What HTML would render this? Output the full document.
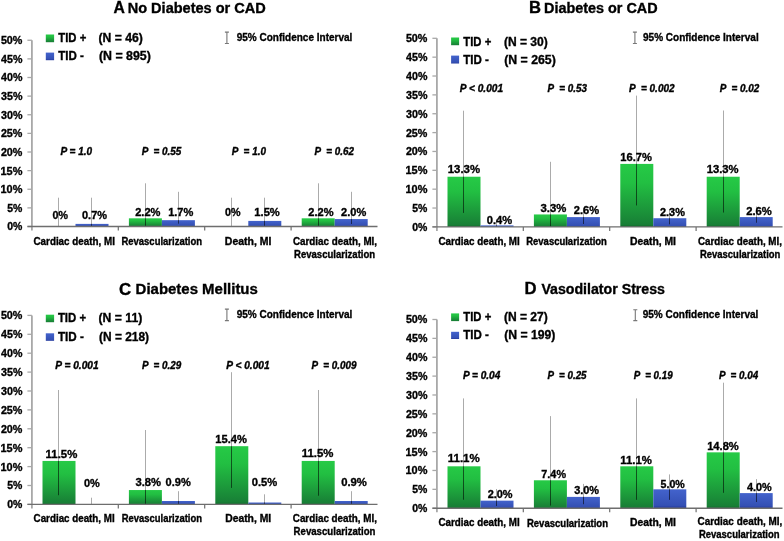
<!DOCTYPE html>
<html><head><meta charset="utf-8"><style>
html,body{margin:0;padding:0;background:#fff;}
svg{display:block;will-change:transform;}
text{font-family:"Liberation Sans",sans-serif;font-weight:bold;fill:#000;white-space:pre;stroke:#000;stroke-width:0.35px;}
</style></head><body>
<svg width="784" height="541" viewBox="0 0 784 541">
<defs>
<linearGradient id="gG" x1="0" y1="0" x2="0" y2="1"><stop offset="0" stop-color="#26ca46"/><stop offset="0.3" stop-color="#22bf42"/><stop offset="0.96" stop-color="#187f36"/><stop offset="1" stop-color="#11682b"/></linearGradient>
<linearGradient id="gB" x1="0" y1="0" x2="0" y2="1"><stop offset="0" stop-color="#4363cc"/><stop offset="0.85" stop-color="#3450b4"/><stop offset="1" stop-color="#22379a"/></linearGradient>
</defs>
<rect width="784" height="541" fill="#fff"/>
<line x1="27.40" y1="226.50" x2="31.90" y2="226.50" stroke="#a8a8a8" stroke-width="1.3"/>
<line x1="27.40" y1="207.88" x2="31.90" y2="207.88" stroke="#a8a8a8" stroke-width="1.3"/>
<line x1="27.40" y1="189.25" x2="31.90" y2="189.25" stroke="#a8a8a8" stroke-width="1.3"/>
<line x1="27.40" y1="170.62" x2="31.90" y2="170.62" stroke="#a8a8a8" stroke-width="1.3"/>
<line x1="27.40" y1="152.00" x2="31.90" y2="152.00" stroke="#a8a8a8" stroke-width="1.3"/>
<line x1="27.40" y1="133.38" x2="31.90" y2="133.38" stroke="#a8a8a8" stroke-width="1.3"/>
<line x1="27.40" y1="114.75" x2="31.90" y2="114.75" stroke="#a8a8a8" stroke-width="1.3"/>
<line x1="27.40" y1="96.12" x2="31.90" y2="96.12" stroke="#a8a8a8" stroke-width="1.3"/>
<line x1="27.40" y1="77.50" x2="31.90" y2="77.50" stroke="#a8a8a8" stroke-width="1.3"/>
<line x1="27.40" y1="58.88" x2="31.90" y2="58.88" stroke="#a8a8a8" stroke-width="1.3"/>
<line x1="27.40" y1="40.25" x2="31.90" y2="40.25" stroke="#a8a8a8" stroke-width="1.3"/>
<rect x="45.80" y="34.50" width="8.30" height="7.70" fill="url(#gG)"/>
<rect x="45.80" y="52.60" width="8.30" height="7.60" fill="url(#gB)"/>
<path d="M226.90 32.10V43.50M224.90 32.10H228.90M224.90 43.50H228.90" stroke="#777" stroke-width="1.1" fill="none"/>
<rect x="75.50" y="223.89" width="33" height="2.61" fill="url(#gB)"/>
<rect x="128.90" y="218.31" width="33" height="8.20" fill="url(#gG)"/>
<rect x="161.90" y="220.17" width="33" height="6.33" fill="url(#gB)"/>
<rect x="248.30" y="220.91" width="33" height="5.59" fill="url(#gB)"/>
<rect x="301.70" y="218.31" width="33" height="8.20" fill="url(#gG)"/>
<rect x="334.70" y="219.05" width="33" height="7.45" fill="url(#gB)"/>
<line x1="58.50" y1="197.70" x2="58.50" y2="226.50" stroke="#000" stroke-opacity="0.33" stroke-width="1"/>
<line x1="91.50" y1="197.70" x2="91.50" y2="226.50" stroke="#000" stroke-opacity="0.33" stroke-width="1"/>
<line x1="91.50" y1="223.89" x2="91.50" y2="226.50" stroke="#000" stroke-opacity="0.35" stroke-width="1"/>
<line x1="145.50" y1="183.30" x2="145.50" y2="226.50" stroke="#000" stroke-opacity="0.33" stroke-width="1"/>
<line x1="145.50" y1="218.31" x2="145.50" y2="226.50" stroke="#000" stroke-opacity="0.35" stroke-width="1"/>
<line x1="178.50" y1="191.80" x2="178.50" y2="223.60" stroke="#000" stroke-opacity="0.33" stroke-width="1"/>
<line x1="178.50" y1="220.17" x2="178.50" y2="223.60" stroke="#000" stroke-opacity="0.35" stroke-width="1"/>
<line x1="231.50" y1="197.70" x2="231.50" y2="226.50" stroke="#000" stroke-opacity="0.33" stroke-width="1"/>
<line x1="264.50" y1="197.70" x2="264.50" y2="226.50" stroke="#000" stroke-opacity="0.33" stroke-width="1"/>
<line x1="264.50" y1="220.91" x2="264.50" y2="226.50" stroke="#000" stroke-opacity="0.35" stroke-width="1"/>
<line x1="318.50" y1="183.30" x2="318.50" y2="226.50" stroke="#000" stroke-opacity="0.33" stroke-width="1"/>
<line x1="318.50" y1="218.31" x2="318.50" y2="226.50" stroke="#000" stroke-opacity="0.35" stroke-width="1"/>
<line x1="351.50" y1="191.80" x2="351.50" y2="224.00" stroke="#000" stroke-opacity="0.33" stroke-width="1"/>
<line x1="351.50" y1="219.05" x2="351.50" y2="224.00" stroke="#000" stroke-opacity="0.35" stroke-width="1"/>
<line x1="31.90" y1="40.25" x2="31.90" y2="230.50" stroke="#a8a8a8" stroke-width="1.8"/>
<line x1="27.40" y1="226.50" x2="377.50" y2="226.50" stroke="#6e6e6e" stroke-width="1.4"/>
<line x1="118.30" y1="226.50" x2="118.30" y2="230.50" stroke="#6e6e6e" stroke-width="1.2"/>
<line x1="204.70" y1="226.50" x2="204.70" y2="230.50" stroke="#6e6e6e" stroke-width="1.2"/>
<line x1="291.10" y1="226.50" x2="291.10" y2="230.50" stroke="#6e6e6e" stroke-width="1.2"/>
<line x1="432.40" y1="226.90" x2="436.90" y2="226.90" stroke="#a8a8a8" stroke-width="1.3"/>
<line x1="432.40" y1="208.04" x2="436.90" y2="208.04" stroke="#a8a8a8" stroke-width="1.3"/>
<line x1="432.40" y1="189.18" x2="436.90" y2="189.18" stroke="#a8a8a8" stroke-width="1.3"/>
<line x1="432.40" y1="170.32" x2="436.90" y2="170.32" stroke="#a8a8a8" stroke-width="1.3"/>
<line x1="432.40" y1="151.46" x2="436.90" y2="151.46" stroke="#a8a8a8" stroke-width="1.3"/>
<line x1="432.40" y1="132.60" x2="436.90" y2="132.60" stroke="#a8a8a8" stroke-width="1.3"/>
<line x1="432.40" y1="113.74" x2="436.90" y2="113.74" stroke="#a8a8a8" stroke-width="1.3"/>
<line x1="432.40" y1="94.88" x2="436.90" y2="94.88" stroke="#a8a8a8" stroke-width="1.3"/>
<line x1="432.40" y1="76.02" x2="436.90" y2="76.02" stroke="#a8a8a8" stroke-width="1.3"/>
<line x1="432.40" y1="57.16" x2="436.90" y2="57.16" stroke="#a8a8a8" stroke-width="1.3"/>
<line x1="432.40" y1="38.30" x2="436.90" y2="38.30" stroke="#a8a8a8" stroke-width="1.3"/>
<rect x="451.10" y="37.50" width="8.00" height="7.70" fill="url(#gG)"/>
<rect x="451.10" y="55.60" width="8.00" height="7.90" fill="url(#gB)"/>
<path d="M634.90 32.10V43.50M632.90 32.10H636.90M632.90 43.50H636.90" stroke="#777" stroke-width="1.1" fill="none"/>
<rect x="447.50" y="176.73" width="33" height="50.17" fill="url(#gG)"/>
<rect x="480.50" y="225.39" width="33" height="1.51" fill="url(#gB)"/>
<rect x="533.90" y="214.45" width="33" height="12.45" fill="url(#gG)"/>
<rect x="566.90" y="217.09" width="33" height="9.81" fill="url(#gB)"/>
<rect x="620.30" y="163.91" width="33" height="62.99" fill="url(#gG)"/>
<rect x="653.30" y="218.22" width="33" height="8.68" fill="url(#gB)"/>
<rect x="706.70" y="176.73" width="33" height="50.17" fill="url(#gG)"/>
<rect x="739.70" y="217.09" width="33" height="9.81" fill="url(#gB)"/>
<line x1="463.50" y1="110.70" x2="463.50" y2="212.90" stroke="#000" stroke-opacity="0.33" stroke-width="1"/>
<line x1="463.50" y1="176.73" x2="463.50" y2="212.90" stroke="#000" stroke-opacity="0.35" stroke-width="1"/>
<line x1="496.50" y1="219.00" x2="496.50" y2="226.90" stroke="#000" stroke-opacity="0.33" stroke-width="1"/>
<line x1="496.50" y1="225.39" x2="496.50" y2="226.90" stroke="#000" stroke-opacity="0.35" stroke-width="1"/>
<line x1="550.50" y1="161.80" x2="550.50" y2="226.50" stroke="#000" stroke-opacity="0.33" stroke-width="1"/>
<line x1="550.50" y1="214.45" x2="550.50" y2="226.50" stroke="#000" stroke-opacity="0.35" stroke-width="1"/>
<line x1="583.50" y1="208.40" x2="583.50" y2="224.00" stroke="#000" stroke-opacity="0.33" stroke-width="1"/>
<line x1="583.50" y1="217.09" x2="583.50" y2="224.00" stroke="#000" stroke-opacity="0.35" stroke-width="1"/>
<line x1="636.50" y1="95.60" x2="636.50" y2="205.40" stroke="#000" stroke-opacity="0.33" stroke-width="1"/>
<line x1="636.50" y1="163.91" x2="636.50" y2="205.40" stroke="#000" stroke-opacity="0.35" stroke-width="1"/>
<line x1="669.50" y1="209.90" x2="669.50" y2="224.30" stroke="#000" stroke-opacity="0.33" stroke-width="1"/>
<line x1="669.50" y1="218.22" x2="669.50" y2="224.30" stroke="#000" stroke-opacity="0.35" stroke-width="1"/>
<line x1="723.50" y1="110.50" x2="723.50" y2="212.50" stroke="#000" stroke-opacity="0.33" stroke-width="1"/>
<line x1="723.50" y1="176.73" x2="723.50" y2="212.50" stroke="#000" stroke-opacity="0.35" stroke-width="1"/>
<line x1="756.50" y1="206.50" x2="756.50" y2="222.70" stroke="#000" stroke-opacity="0.33" stroke-width="1"/>
<line x1="756.50" y1="217.09" x2="756.50" y2="222.70" stroke="#000" stroke-opacity="0.35" stroke-width="1"/>
<line x1="436.90" y1="38.30" x2="436.90" y2="230.90" stroke="#a8a8a8" stroke-width="1.8"/>
<line x1="432.40" y1="226.90" x2="782.50" y2="226.90" stroke="#6e6e6e" stroke-width="1.4"/>
<line x1="523.30" y1="226.90" x2="523.30" y2="230.90" stroke="#6e6e6e" stroke-width="1.2"/>
<line x1="609.70" y1="226.90" x2="609.70" y2="230.90" stroke="#6e6e6e" stroke-width="1.2"/>
<line x1="696.10" y1="226.90" x2="696.10" y2="230.90" stroke="#6e6e6e" stroke-width="1.2"/>
<line x1="27.40" y1="504.40" x2="31.90" y2="504.40" stroke="#a8a8a8" stroke-width="1.3"/>
<line x1="27.40" y1="485.50" x2="31.90" y2="485.50" stroke="#a8a8a8" stroke-width="1.3"/>
<line x1="27.40" y1="466.60" x2="31.90" y2="466.60" stroke="#a8a8a8" stroke-width="1.3"/>
<line x1="27.40" y1="447.70" x2="31.90" y2="447.70" stroke="#a8a8a8" stroke-width="1.3"/>
<line x1="27.40" y1="428.80" x2="31.90" y2="428.80" stroke="#a8a8a8" stroke-width="1.3"/>
<line x1="27.40" y1="409.90" x2="31.90" y2="409.90" stroke="#a8a8a8" stroke-width="1.3"/>
<line x1="27.40" y1="391.00" x2="31.90" y2="391.00" stroke="#a8a8a8" stroke-width="1.3"/>
<line x1="27.40" y1="372.10" x2="31.90" y2="372.10" stroke="#a8a8a8" stroke-width="1.3"/>
<line x1="27.40" y1="353.20" x2="31.90" y2="353.20" stroke="#a8a8a8" stroke-width="1.3"/>
<line x1="27.40" y1="334.30" x2="31.90" y2="334.30" stroke="#a8a8a8" stroke-width="1.3"/>
<line x1="27.40" y1="315.40" x2="31.90" y2="315.40" stroke="#a8a8a8" stroke-width="1.3"/>
<rect x="45.80" y="314.70" width="8.30" height="7.50" fill="url(#gG)"/>
<rect x="45.80" y="333.30" width="8.30" height="7.50" fill="url(#gB)"/>
<path d="M226.90 309.10V320.60M224.90 309.10H228.90M224.90 320.60H228.90" stroke="#777" stroke-width="1.1" fill="none"/>
<rect x="42.50" y="460.93" width="33" height="43.47" fill="url(#gG)"/>
<rect x="128.90" y="490.04" width="33" height="14.36" fill="url(#gG)"/>
<rect x="161.90" y="501.00" width="33" height="3.40" fill="url(#gB)"/>
<rect x="215.30" y="446.19" width="33" height="58.21" fill="url(#gG)"/>
<rect x="248.30" y="502.51" width="33" height="1.89" fill="url(#gB)"/>
<rect x="301.70" y="460.93" width="33" height="43.47" fill="url(#gG)"/>
<rect x="334.70" y="501.00" width="33" height="3.40" fill="url(#gB)"/>
<line x1="58.50" y1="390.00" x2="58.50" y2="495.20" stroke="#000" stroke-opacity="0.33" stroke-width="1"/>
<line x1="58.50" y1="460.93" x2="58.50" y2="495.20" stroke="#000" stroke-opacity="0.35" stroke-width="1"/>
<line x1="91.50" y1="497.70" x2="91.50" y2="504.40" stroke="#000" stroke-opacity="0.33" stroke-width="1"/>
<line x1="145.50" y1="430.00" x2="145.50" y2="504.00" stroke="#000" stroke-opacity="0.33" stroke-width="1"/>
<line x1="145.50" y1="490.04" x2="145.50" y2="504.00" stroke="#000" stroke-opacity="0.35" stroke-width="1"/>
<line x1="178.50" y1="491.20" x2="178.50" y2="504.00" stroke="#000" stroke-opacity="0.33" stroke-width="1"/>
<line x1="178.50" y1="501.00" x2="178.50" y2="504.00" stroke="#000" stroke-opacity="0.35" stroke-width="1"/>
<line x1="231.50" y1="372.20" x2="231.50" y2="487.90" stroke="#000" stroke-opacity="0.33" stroke-width="1"/>
<line x1="231.50" y1="446.19" x2="231.50" y2="487.90" stroke="#000" stroke-opacity="0.35" stroke-width="1"/>
<line x1="264.50" y1="494.30" x2="264.50" y2="504.00" stroke="#000" stroke-opacity="0.33" stroke-width="1"/>
<line x1="264.50" y1="502.51" x2="264.50" y2="504.00" stroke="#000" stroke-opacity="0.35" stroke-width="1"/>
<line x1="318.50" y1="390.00" x2="318.50" y2="495.70" stroke="#000" stroke-opacity="0.33" stroke-width="1"/>
<line x1="318.50" y1="460.93" x2="318.50" y2="495.70" stroke="#000" stroke-opacity="0.35" stroke-width="1"/>
<line x1="351.50" y1="491.20" x2="351.50" y2="504.00" stroke="#000" stroke-opacity="0.33" stroke-width="1"/>
<line x1="351.50" y1="501.00" x2="351.50" y2="504.00" stroke="#000" stroke-opacity="0.35" stroke-width="1"/>
<line x1="31.90" y1="315.40" x2="31.90" y2="508.40" stroke="#a8a8a8" stroke-width="1.8"/>
<line x1="27.40" y1="504.40" x2="377.50" y2="504.40" stroke="#6e6e6e" stroke-width="1.4"/>
<line x1="118.30" y1="504.40" x2="118.30" y2="508.40" stroke="#6e6e6e" stroke-width="1.2"/>
<line x1="204.70" y1="504.40" x2="204.70" y2="508.40" stroke="#6e6e6e" stroke-width="1.2"/>
<line x1="291.10" y1="504.40" x2="291.10" y2="508.40" stroke="#6e6e6e" stroke-width="1.2"/>
<line x1="432.40" y1="508.20" x2="436.90" y2="508.20" stroke="#a8a8a8" stroke-width="1.3"/>
<line x1="432.40" y1="489.33" x2="436.90" y2="489.33" stroke="#a8a8a8" stroke-width="1.3"/>
<line x1="432.40" y1="470.46" x2="436.90" y2="470.46" stroke="#a8a8a8" stroke-width="1.3"/>
<line x1="432.40" y1="451.59" x2="436.90" y2="451.59" stroke="#a8a8a8" stroke-width="1.3"/>
<line x1="432.40" y1="432.72" x2="436.90" y2="432.72" stroke="#a8a8a8" stroke-width="1.3"/>
<line x1="432.40" y1="413.85" x2="436.90" y2="413.85" stroke="#a8a8a8" stroke-width="1.3"/>
<line x1="432.40" y1="394.98" x2="436.90" y2="394.98" stroke="#a8a8a8" stroke-width="1.3"/>
<line x1="432.40" y1="376.11" x2="436.90" y2="376.11" stroke="#a8a8a8" stroke-width="1.3"/>
<line x1="432.40" y1="357.24" x2="436.90" y2="357.24" stroke="#a8a8a8" stroke-width="1.3"/>
<line x1="432.40" y1="338.37" x2="436.90" y2="338.37" stroke="#a8a8a8" stroke-width="1.3"/>
<line x1="432.40" y1="319.50" x2="436.90" y2="319.50" stroke="#a8a8a8" stroke-width="1.3"/>
<rect x="451.10" y="313.40" width="8.00" height="7.70" fill="url(#gG)"/>
<rect x="451.10" y="331.80" width="8.00" height="7.20" fill="url(#gB)"/>
<path d="M635.30 309.70V320.60M633.30 309.70H637.30M633.30 320.60H637.30" stroke="#777" stroke-width="1.1" fill="none"/>
<rect x="447.50" y="466.31" width="33" height="41.89" fill="url(#gG)"/>
<rect x="480.50" y="500.65" width="33" height="7.55" fill="url(#gB)"/>
<rect x="533.90" y="480.27" width="33" height="27.93" fill="url(#gG)"/>
<rect x="566.90" y="496.88" width="33" height="11.32" fill="url(#gB)"/>
<rect x="620.30" y="466.31" width="33" height="41.89" fill="url(#gG)"/>
<rect x="653.30" y="489.33" width="33" height="18.87" fill="url(#gB)"/>
<rect x="706.70" y="452.34" width="33" height="55.86" fill="url(#gG)"/>
<rect x="739.70" y="493.10" width="33" height="15.10" fill="url(#gB)"/>
<line x1="463.50" y1="398.40" x2="463.50" y2="499.70" stroke="#000" stroke-opacity="0.33" stroke-width="1"/>
<line x1="463.50" y1="466.31" x2="463.50" y2="499.70" stroke="#000" stroke-opacity="0.35" stroke-width="1"/>
<line x1="496.50" y1="489.00" x2="496.50" y2="506.00" stroke="#000" stroke-opacity="0.33" stroke-width="1"/>
<line x1="496.50" y1="500.65" x2="496.50" y2="506.00" stroke="#000" stroke-opacity="0.35" stroke-width="1"/>
<line x1="550.50" y1="416.10" x2="550.50" y2="505.50" stroke="#000" stroke-opacity="0.33" stroke-width="1"/>
<line x1="550.50" y1="480.27" x2="550.50" y2="505.50" stroke="#000" stroke-opacity="0.35" stroke-width="1"/>
<line x1="583.50" y1="483.90" x2="583.50" y2="504.20" stroke="#000" stroke-opacity="0.33" stroke-width="1"/>
<line x1="583.50" y1="496.88" x2="583.50" y2="504.20" stroke="#000" stroke-opacity="0.35" stroke-width="1"/>
<line x1="636.50" y1="398.40" x2="636.50" y2="499.80" stroke="#000" stroke-opacity="0.33" stroke-width="1"/>
<line x1="636.50" y1="466.31" x2="636.50" y2="499.80" stroke="#000" stroke-opacity="0.35" stroke-width="1"/>
<line x1="669.50" y1="474.40" x2="669.50" y2="499.80" stroke="#000" stroke-opacity="0.33" stroke-width="1"/>
<line x1="669.50" y1="489.33" x2="669.50" y2="499.80" stroke="#000" stroke-opacity="0.35" stroke-width="1"/>
<line x1="723.50" y1="382.70" x2="723.50" y2="492.80" stroke="#000" stroke-opacity="0.33" stroke-width="1"/>
<line x1="723.50" y1="452.34" x2="723.50" y2="492.80" stroke="#000" stroke-opacity="0.35" stroke-width="1"/>
<line x1="756.50" y1="479.10" x2="756.50" y2="502.00" stroke="#000" stroke-opacity="0.33" stroke-width="1"/>
<line x1="756.50" y1="493.10" x2="756.50" y2="502.00" stroke="#000" stroke-opacity="0.35" stroke-width="1"/>
<line x1="436.90" y1="319.50" x2="436.90" y2="512.20" stroke="#a8a8a8" stroke-width="1.8"/>
<line x1="432.40" y1="508.20" x2="782.50" y2="508.20" stroke="#6e6e6e" stroke-width="1.4"/>
<line x1="523.30" y1="508.20" x2="523.30" y2="512.20" stroke="#6e6e6e" stroke-width="1.2"/>
<line x1="609.70" y1="508.20" x2="609.70" y2="512.20" stroke="#6e6e6e" stroke-width="1.2"/>
<line x1="696.10" y1="508.20" x2="696.10" y2="512.20" stroke="#6e6e6e" stroke-width="1.2"/>
<text x="113.39" y="12.80" font-size="16.72" textLength="11.36" lengthAdjust="spacingAndGlyphs">A</text>
<text x="127.73" y="12.80" font-size="14.54" textLength="138.04" lengthAdjust="spacingAndGlyphs">No Diabetes or CAD</text>
<text x="7.29" y="230.45" font-size="11.34" textLength="15.11" lengthAdjust="spacingAndGlyphs">0%</text>
<text x="7.29" y="211.82" font-size="11.34" textLength="15.11" lengthAdjust="spacingAndGlyphs">5%</text>
<text x="0.54" y="193.20" font-size="11.34" textLength="21.86" lengthAdjust="spacingAndGlyphs">10%</text>
<text x="0.54" y="174.57" font-size="11.34" textLength="21.86" lengthAdjust="spacingAndGlyphs">15%</text>
<text x="0.88" y="155.95" font-size="11.34" textLength="21.53" lengthAdjust="spacingAndGlyphs">20%</text>
<text x="0.88" y="137.32" font-size="11.34" textLength="21.53" lengthAdjust="spacingAndGlyphs">25%</text>
<text x="0.99" y="118.70" font-size="11.34" textLength="21.42" lengthAdjust="spacingAndGlyphs">30%</text>
<text x="0.99" y="100.08" font-size="11.34" textLength="21.42" lengthAdjust="spacingAndGlyphs">35%</text>
<text x="1.09" y="81.45" font-size="11.34" textLength="21.31" lengthAdjust="spacingAndGlyphs">40%</text>
<text x="1.09" y="62.83" font-size="11.34" textLength="21.31" lengthAdjust="spacingAndGlyphs">45%</text>
<text x="0.88" y="44.20" font-size="11.34" textLength="21.53" lengthAdjust="spacingAndGlyphs">50%</text>
<text x="58.29" y="42.10" font-size="12.35" textLength="28.00" lengthAdjust="spacingAndGlyphs">TID +</text>
<text x="98.51" y="42.10" font-size="12.35" textLength="44.31" lengthAdjust="spacingAndGlyphs">(N = 46)</text>
<text x="58.28" y="60.20" font-size="12.35" textLength="25.70" lengthAdjust="spacingAndGlyphs">TID -</text>
<text x="98.91" y="60.20" font-size="12.35" textLength="51.93" lengthAdjust="spacingAndGlyphs">(N = 895)</text>
<text x="236.70" y="41.30" font-size="11.05" textLength="115.68" lengthAdjust="spacingAndGlyphs">95% Confidence Interval</text>
<text x="60.40" y="154.90" font-size="10.03" font-style="italic" textLength="31.76" lengthAdjust="spacingAndGlyphs">P = 1.0</text>
<text x="141.70" y="154.90" font-size="10.03" font-style="italic" textLength="39.66" lengthAdjust="spacingAndGlyphs" xml:space="preserve">P  = 0.55</text>
<text x="231.80" y="154.90" font-size="10.03" font-style="italic" textLength="34.16" lengthAdjust="spacingAndGlyphs" xml:space="preserve">P  = 1.0</text>
<text x="314.60" y="154.90" font-size="10.03" font-style="italic" textLength="39.36" lengthAdjust="spacingAndGlyphs" xml:space="preserve">P  = 0.62</text>
<text x="52.58" y="219.10" font-size="11.48" textLength="15.42" lengthAdjust="spacingAndGlyphs">0%</text>
<text x="81.97" y="219.10" font-size="11.48" textLength="25.04" lengthAdjust="spacingAndGlyphs">0.7%</text>
<text x="135.17" y="215.80" font-size="11.48" textLength="25.35" lengthAdjust="spacingAndGlyphs">2.2%</text>
<text x="168.13" y="215.80" font-size="11.48" textLength="25.28" lengthAdjust="spacingAndGlyphs">1.7%</text>
<text x="224.98" y="216.00" font-size="11.48" textLength="15.53" lengthAdjust="spacingAndGlyphs">0%</text>
<text x="254.33" y="216.00" font-size="11.48" textLength="25.49" lengthAdjust="spacingAndGlyphs">1.5%</text>
<text x="308.37" y="215.80" font-size="11.48" textLength="25.24" lengthAdjust="spacingAndGlyphs">2.2%</text>
<text x="341.07" y="215.80" font-size="11.48" textLength="25.14" lengthAdjust="spacingAndGlyphs">2.0%</text>
<text x="33.51" y="245.00" font-size="10.17" textLength="81.36" lengthAdjust="spacingAndGlyphs">Cardiac death, MI</text>
<text x="121.43" y="245.20" font-size="10.17" textLength="80.65" lengthAdjust="spacingAndGlyphs">Revascularization</text>
<text x="224.87" y="244.60" font-size="10.17" textLength="46.53" lengthAdjust="spacingAndGlyphs">Death, MI</text>
<text x="292.91" y="245.20" font-size="10.17" textLength="84.16" lengthAdjust="spacingAndGlyphs">Cardiac death, MI,</text>
<text x="294.03" y="257.50" font-size="10.17" textLength="81.15" lengthAdjust="spacingAndGlyphs">Revascularization</text>
<text x="529.00" y="13.10" font-size="16.72" textLength="12.00" lengthAdjust="spacingAndGlyphs">B</text>
<text x="544.04" y="12.80" font-size="14.54" textLength="113.53" lengthAdjust="spacingAndGlyphs">Diabetes or CAD</text>
<text x="412.29" y="230.85" font-size="11.34" textLength="15.11" lengthAdjust="spacingAndGlyphs">0%</text>
<text x="412.29" y="211.99" font-size="11.34" textLength="15.11" lengthAdjust="spacingAndGlyphs">5%</text>
<text x="405.54" y="193.13" font-size="11.34" textLength="21.86" lengthAdjust="spacingAndGlyphs">10%</text>
<text x="405.54" y="174.27" font-size="11.34" textLength="21.86" lengthAdjust="spacingAndGlyphs">15%</text>
<text x="405.88" y="155.41" font-size="11.34" textLength="21.53" lengthAdjust="spacingAndGlyphs">20%</text>
<text x="405.88" y="136.55" font-size="11.34" textLength="21.53" lengthAdjust="spacingAndGlyphs">25%</text>
<text x="405.99" y="117.69" font-size="11.34" textLength="21.42" lengthAdjust="spacingAndGlyphs">30%</text>
<text x="405.99" y="98.83" font-size="11.34" textLength="21.42" lengthAdjust="spacingAndGlyphs">35%</text>
<text x="406.09" y="79.97" font-size="11.34" textLength="21.31" lengthAdjust="spacingAndGlyphs">40%</text>
<text x="406.09" y="61.11" font-size="11.34" textLength="21.31" lengthAdjust="spacingAndGlyphs">45%</text>
<text x="405.88" y="42.25" font-size="11.34" textLength="21.53" lengthAdjust="spacingAndGlyphs">50%</text>
<text x="463.29" y="45.50" font-size="12.35" textLength="28.00" lengthAdjust="spacingAndGlyphs">TID +</text>
<text x="503.92" y="45.50" font-size="12.35" textLength="43.90" lengthAdjust="spacingAndGlyphs">(N = 30)</text>
<text x="463.28" y="63.50" font-size="12.35" textLength="25.70" lengthAdjust="spacingAndGlyphs">TID -</text>
<text x="504.21" y="63.50" font-size="12.35" textLength="51.62" lengthAdjust="spacingAndGlyphs">(N = 265)</text>
<text x="643.00" y="41.30" font-size="11.05" textLength="115.68" lengthAdjust="spacingAndGlyphs">95% Confidence Interval</text>
<text x="459.80" y="91.80" font-size="10.03" font-style="italic" textLength="43.26" lengthAdjust="spacingAndGlyphs">P &lt; 0.001</text>
<text x="547.50" y="91.80" font-size="10.03" font-style="italic" textLength="39.36" lengthAdjust="spacingAndGlyphs" xml:space="preserve">P  = 0.53</text>
<text x="629.10" y="91.80" font-size="10.03" font-style="italic" textLength="45.46" lengthAdjust="spacingAndGlyphs" xml:space="preserve">P  = 0.002</text>
<text x="719.80" y="91.80" font-size="10.03" font-style="italic" textLength="39.56" lengthAdjust="spacingAndGlyphs" xml:space="preserve">P  = 0.02</text>
<text x="447.72" y="173.20" font-size="11.48" textLength="32.30" lengthAdjust="spacingAndGlyphs">13.3%</text>
<text x="486.77" y="223.70" font-size="11.48" textLength="25.45" lengthAdjust="spacingAndGlyphs">0.4%</text>
<text x="540.57" y="211.60" font-size="11.48" textLength="25.84" lengthAdjust="spacingAndGlyphs">3.3%</text>
<text x="573.77" y="214.40" font-size="11.48" textLength="25.35" lengthAdjust="spacingAndGlyphs">2.6%</text>
<text x="620.33" y="160.90" font-size="11.48" textLength="31.68" lengthAdjust="spacingAndGlyphs">16.7%</text>
<text x="659.97" y="215.90" font-size="11.48" textLength="24.94" lengthAdjust="spacingAndGlyphs">2.3%</text>
<text x="706.63" y="173.30" font-size="11.48" textLength="31.89" lengthAdjust="spacingAndGlyphs">13.3%</text>
<text x="746.16" y="215.40" font-size="11.48" textLength="25.65" lengthAdjust="spacingAndGlyphs">2.6%</text>
<text x="438.41" y="245.20" font-size="10.17" textLength="81.36" lengthAdjust="spacingAndGlyphs">Cardiac death, MI</text>
<text x="526.23" y="245.20" font-size="10.17" textLength="80.65" lengthAdjust="spacingAndGlyphs">Revascularization</text>
<text x="629.98" y="244.50" font-size="10.17" textLength="46.02" lengthAdjust="spacingAndGlyphs">Death, MI</text>
<text x="698.01" y="245.20" font-size="10.17" textLength="83.96" lengthAdjust="spacingAndGlyphs">Cardiac death, MI,</text>
<text x="700.03" y="257.80" font-size="10.17" textLength="80.34" lengthAdjust="spacingAndGlyphs">Revascularization</text>
<text x="119.13" y="294.90" font-size="16.72" textLength="12.15" lengthAdjust="spacingAndGlyphs">C</text>
<text x="135.60" y="294.30" font-size="14.54" textLength="122.24" lengthAdjust="spacingAndGlyphs">Diabetes Mellitus</text>
<text x="7.29" y="508.35" font-size="11.34" textLength="15.11" lengthAdjust="spacingAndGlyphs">0%</text>
<text x="7.29" y="489.45" font-size="11.34" textLength="15.11" lengthAdjust="spacingAndGlyphs">5%</text>
<text x="0.54" y="470.55" font-size="11.34" textLength="21.86" lengthAdjust="spacingAndGlyphs">10%</text>
<text x="0.54" y="451.65" font-size="11.34" textLength="21.86" lengthAdjust="spacingAndGlyphs">15%</text>
<text x="0.88" y="432.75" font-size="11.34" textLength="21.53" lengthAdjust="spacingAndGlyphs">20%</text>
<text x="0.88" y="413.85" font-size="11.34" textLength="21.53" lengthAdjust="spacingAndGlyphs">25%</text>
<text x="0.99" y="394.95" font-size="11.34" textLength="21.42" lengthAdjust="spacingAndGlyphs">30%</text>
<text x="0.99" y="376.05" font-size="11.34" textLength="21.42" lengthAdjust="spacingAndGlyphs">35%</text>
<text x="1.09" y="357.15" font-size="11.34" textLength="21.31" lengthAdjust="spacingAndGlyphs">40%</text>
<text x="1.09" y="338.25" font-size="11.34" textLength="21.31" lengthAdjust="spacingAndGlyphs">45%</text>
<text x="0.88" y="319.35" font-size="11.34" textLength="21.53" lengthAdjust="spacingAndGlyphs">50%</text>
<text x="57.89" y="322.30" font-size="12.35" textLength="28.20" lengthAdjust="spacingAndGlyphs">TID +</text>
<text x="98.51" y="322.30" font-size="12.35" textLength="43.81" lengthAdjust="spacingAndGlyphs">(N = 11)</text>
<text x="57.88" y="340.70" font-size="12.35" textLength="25.90" lengthAdjust="spacingAndGlyphs">TID -</text>
<text x="99.12" y="340.70" font-size="12.35" textLength="49.99" lengthAdjust="spacingAndGlyphs">(N = 218)</text>
<text x="236.70" y="318.30" font-size="11.05" textLength="115.68" lengthAdjust="spacingAndGlyphs">95% Confidence Interval</text>
<text x="55.20" y="368.90" font-size="10.03" font-style="italic" textLength="43.47" lengthAdjust="spacingAndGlyphs">P = 0.001</text>
<text x="141.90" y="368.90" font-size="10.03" font-style="italic" textLength="39.26" lengthAdjust="spacingAndGlyphs" xml:space="preserve">P  = 0.29</text>
<text x="226.20" y="368.90" font-size="10.03" font-style="italic" textLength="43.47" lengthAdjust="spacingAndGlyphs">P &lt; 0.001</text>
<text x="311.50" y="368.90" font-size="10.03" font-style="italic" textLength="44.96" lengthAdjust="spacingAndGlyphs" xml:space="preserve">P  = 0.009</text>
<text x="45.62" y="458.40" font-size="11.48" textLength="31.70" lengthAdjust="spacingAndGlyphs">11.5%</text>
<text x="83.97" y="486.50" font-size="11.48" textLength="15.84" lengthAdjust="spacingAndGlyphs">0%</text>
<text x="135.48" y="485.90" font-size="11.48" textLength="25.64" lengthAdjust="spacingAndGlyphs">3.8%</text>
<text x="165.57" y="485.90" font-size="11.48" textLength="25.14" lengthAdjust="spacingAndGlyphs">0.9%</text>
<text x="215.23" y="442.70" font-size="11.48" textLength="31.68" lengthAdjust="spacingAndGlyphs">15.4%</text>
<text x="251.76" y="485.90" font-size="11.48" textLength="25.55" lengthAdjust="spacingAndGlyphs">0.5%</text>
<text x="301.82" y="456.70" font-size="11.48" textLength="31.70" lengthAdjust="spacingAndGlyphs">11.5%</text>
<text x="341.16" y="485.90" font-size="11.48" textLength="25.76" lengthAdjust="spacingAndGlyphs">0.9%</text>
<text x="33.61" y="522.20" font-size="10.17" textLength="81.06" lengthAdjust="spacingAndGlyphs">Cardiac death, MI</text>
<text x="121.73" y="521.70" font-size="10.17" textLength="80.24" lengthAdjust="spacingAndGlyphs">Revascularization</text>
<text x="225.18" y="521.70" font-size="10.17" textLength="46.02" lengthAdjust="spacingAndGlyphs">Death, MI</text>
<text x="292.81" y="522.30" font-size="10.17" textLength="84.16" lengthAdjust="spacingAndGlyphs">Cardiac death, MI,</text>
<text x="293.62" y="535.00" font-size="10.17" textLength="81.86" lengthAdjust="spacingAndGlyphs">Revascularization</text>
<text x="524.40" y="294.30" font-size="16.72" textLength="12.04" lengthAdjust="spacingAndGlyphs">D</text>
<text x="541.40" y="294.30" font-size="14.54" textLength="123.61" lengthAdjust="spacingAndGlyphs">Vasodilator Stress</text>
<text x="412.29" y="512.15" font-size="11.34" textLength="15.11" lengthAdjust="spacingAndGlyphs">0%</text>
<text x="412.29" y="493.28" font-size="11.34" textLength="15.11" lengthAdjust="spacingAndGlyphs">5%</text>
<text x="405.54" y="474.41" font-size="11.34" textLength="21.86" lengthAdjust="spacingAndGlyphs">10%</text>
<text x="405.54" y="455.54" font-size="11.34" textLength="21.86" lengthAdjust="spacingAndGlyphs">15%</text>
<text x="405.88" y="436.67" font-size="11.34" textLength="21.53" lengthAdjust="spacingAndGlyphs">20%</text>
<text x="405.88" y="417.80" font-size="11.34" textLength="21.53" lengthAdjust="spacingAndGlyphs">25%</text>
<text x="405.99" y="398.93" font-size="11.34" textLength="21.42" lengthAdjust="spacingAndGlyphs">30%</text>
<text x="405.99" y="380.06" font-size="11.34" textLength="21.42" lengthAdjust="spacingAndGlyphs">35%</text>
<text x="406.09" y="361.19" font-size="11.34" textLength="21.31" lengthAdjust="spacingAndGlyphs">40%</text>
<text x="406.09" y="342.32" font-size="11.34" textLength="21.31" lengthAdjust="spacingAndGlyphs">45%</text>
<text x="405.88" y="323.45" font-size="11.34" textLength="21.53" lengthAdjust="spacingAndGlyphs">50%</text>
<text x="463.29" y="321.40" font-size="12.35" textLength="28.00" lengthAdjust="spacingAndGlyphs">TID +</text>
<text x="503.92" y="321.40" font-size="12.35" textLength="43.90" lengthAdjust="spacingAndGlyphs">(N = 27)</text>
<text x="463.28" y="339.30" font-size="12.35" textLength="25.70" lengthAdjust="spacingAndGlyphs">TID -</text>
<text x="504.21" y="339.30" font-size="12.35" textLength="51.21" lengthAdjust="spacingAndGlyphs">(N = 199)</text>
<text x="642.70" y="318.30" font-size="11.05" textLength="115.68" lengthAdjust="spacingAndGlyphs">95% Confidence Interval</text>
<text x="462.90" y="378.80" font-size="10.03" font-style="italic" textLength="37.36" lengthAdjust="spacingAndGlyphs">P = 0.04</text>
<text x="547.40" y="378.80" font-size="10.03" font-style="italic" textLength="39.16" lengthAdjust="spacingAndGlyphs" xml:space="preserve">P  = 0.25</text>
<text x="633.70" y="378.80" font-size="10.03" font-style="italic" textLength="38.86" lengthAdjust="spacingAndGlyphs" xml:space="preserve">P  = 0.19</text>
<text x="718.90" y="378.80" font-size="10.03" font-style="italic" textLength="39.25" lengthAdjust="spacingAndGlyphs" xml:space="preserve">P  = 0.04</text>
<text x="447.71" y="461.80" font-size="11.48" textLength="32.11" lengthAdjust="spacingAndGlyphs">11.1%</text>
<text x="487.67" y="498.00" font-size="11.48" textLength="24.94" lengthAdjust="spacingAndGlyphs">2.0%</text>
<text x="541.37" y="477.60" font-size="11.48" textLength="24.64" lengthAdjust="spacingAndGlyphs">7.4%</text>
<text x="574.18" y="494.30" font-size="11.48" textLength="24.93" lengthAdjust="spacingAndGlyphs">3.0%</text>
<text x="620.32" y="464.00" font-size="11.48" textLength="31.60" lengthAdjust="spacingAndGlyphs">11.1%</text>
<text x="660.58" y="487.80" font-size="11.48" textLength="24.22" lengthAdjust="spacingAndGlyphs">5.0%</text>
<text x="707.13" y="450.30" font-size="11.48" textLength="31.68" lengthAdjust="spacingAndGlyphs">14.8%</text>
<text x="746.89" y="490.90" font-size="11.48" textLength="24.82" lengthAdjust="spacingAndGlyphs">4.0%</text>
<text x="438.51" y="526.30" font-size="10.17" textLength="81.16" lengthAdjust="spacingAndGlyphs">Cardiac death, MI</text>
<text x="526.93" y="526.60" font-size="10.17" textLength="81.05" lengthAdjust="spacingAndGlyphs">Revascularization</text>
<text x="630.08" y="526.30" font-size="10.17" textLength="45.92" lengthAdjust="spacingAndGlyphs">Death, MI</text>
<text x="697.50" y="525.10" font-size="10.17" textLength="84.87" lengthAdjust="spacingAndGlyphs">Cardiac death, MI,</text>
<text x="698.93" y="538.30" font-size="10.17" textLength="80.65" lengthAdjust="spacingAndGlyphs">Revascularization</text>
</svg>
</body></html>
